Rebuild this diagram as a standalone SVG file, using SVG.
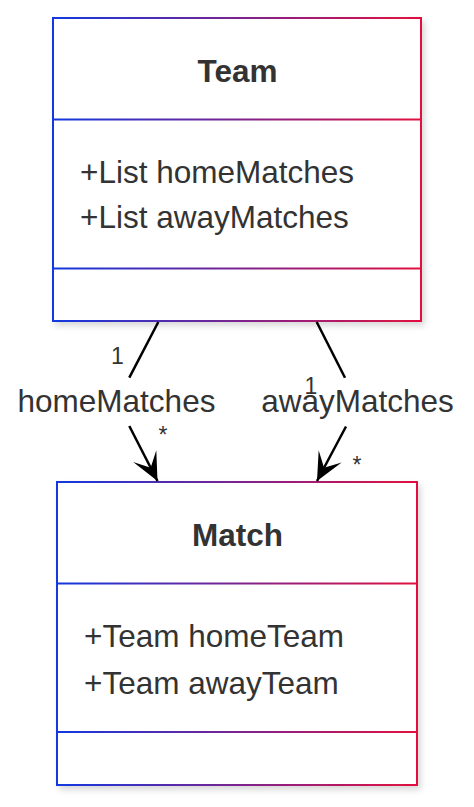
<svg xmlns="http://www.w3.org/2000/svg" width="474" height="807" viewBox="0 0 474 807">
<style>
.box{fill:#fff;stroke-width:2;filter:url(#sh)}
.title{font-family:"Liberation Sans",Arial,sans-serif;font-weight:bold;font-size:31.5px;fill:#333;text-anchor:middle}
.mem{font-family:"Liberation Sans",Arial,sans-serif;font-size:31.5px;fill:#333}
.lbl{font-family:"Liberation Sans",Arial,sans-serif;font-size:31.5px;fill:#333;text-anchor:middle}
.mult{font-family:"Liberation Sans",Arial,sans-serif;font-size:23px;fill:#333;text-anchor:middle}
.edge{fill:none;stroke:#000;stroke-width:2.5}
</style>
<defs>
<linearGradient id="gT" gradientUnits="userSpaceOnUse" x1="53" y1="0" x2="421" y2="0">
<stop offset="0" stop-color="#1238e0"/><stop offset="1" stop-color="#e3103f"/>
</linearGradient>
<linearGradient id="gM" gradientUnits="userSpaceOnUse" x1="57" y1="0" x2="417" y2="0">
<stop offset="0" stop-color="#1238e0"/><stop offset="1" stop-color="#e3103f"/>
</linearGradient>
<filter id="sh" x="-10%" y="-10%" width="125%" height="125%">
<feDropShadow dx="3" dy="4" stdDeviation="3" flood-color="#000" flood-opacity="0.15"/>
</filter>
<marker id="arr" viewBox="-32 -15 34 30" refX="0" refY="0" markerWidth="34" markerHeight="30" markerUnits="userSpaceOnUse" orient="auto">
<path d="M0,0 L-28,-13 L-15,0 L-28,13 Z" fill="#000"/>
</marker>
</defs>
<g id="Team">
<rect class="box" x="53" y="18" width="368" height="303" stroke="url(#gT)"/>
<line x1="53" y1="119.5" x2="421" y2="119.5" stroke="url(#gT)" stroke-width="2"/>
<line x1="53" y1="268.5" x2="421" y2="268.5" stroke="url(#gT)" stroke-width="2"/>
<text class="title" x="237.5" y="82">Team</text>
<text class="mem" x="80" y="183">+List homeMatches</text>
<text class="mem" x="80" y="228">+List awayMatches</text>
</g>
<g id="Match">
<rect class="box" x="57" y="482" width="360" height="303" stroke="url(#gM)"/>
<line x1="57" y1="583.5" x2="417" y2="583.5" stroke="url(#gM)" stroke-width="2"/>
<line x1="57" y1="732" x2="417" y2="732" stroke="url(#gM)" stroke-width="2"/>
<text class="title" x="237.5" y="546">Match</text>
<text class="mem" x="84" y="647">+Team homeTeam</text>
<text class="mem" x="84" y="694">+Team awayTeam</text>
</g>
<g id="connectors">
<line class="edge" x1="158.3" y1="322" x2="129.3" y2="377.7"/>
<line class="edge" x1="129.3" y1="426" x2="157.5" y2="481" marker-end="url(#arr)"/>
<line class="edge" x1="316.7" y1="322" x2="345" y2="377.7"/>
<line class="edge" x1="346" y1="426.5" x2="317" y2="481" marker-end="url(#arr)"/>
<text class="lbl" x="116.5" y="412">homeMatches</text>
<text class="lbl" x="357.5" y="412">awayMatches</text>
<text class="mult" x="117.5" y="363.5">1</text>
<text class="mult" x="163" y="443">*</text>
<text class="mult" x="311" y="394">1</text>
<text class="mult" x="357" y="473">*</text>
</g>
</svg>
